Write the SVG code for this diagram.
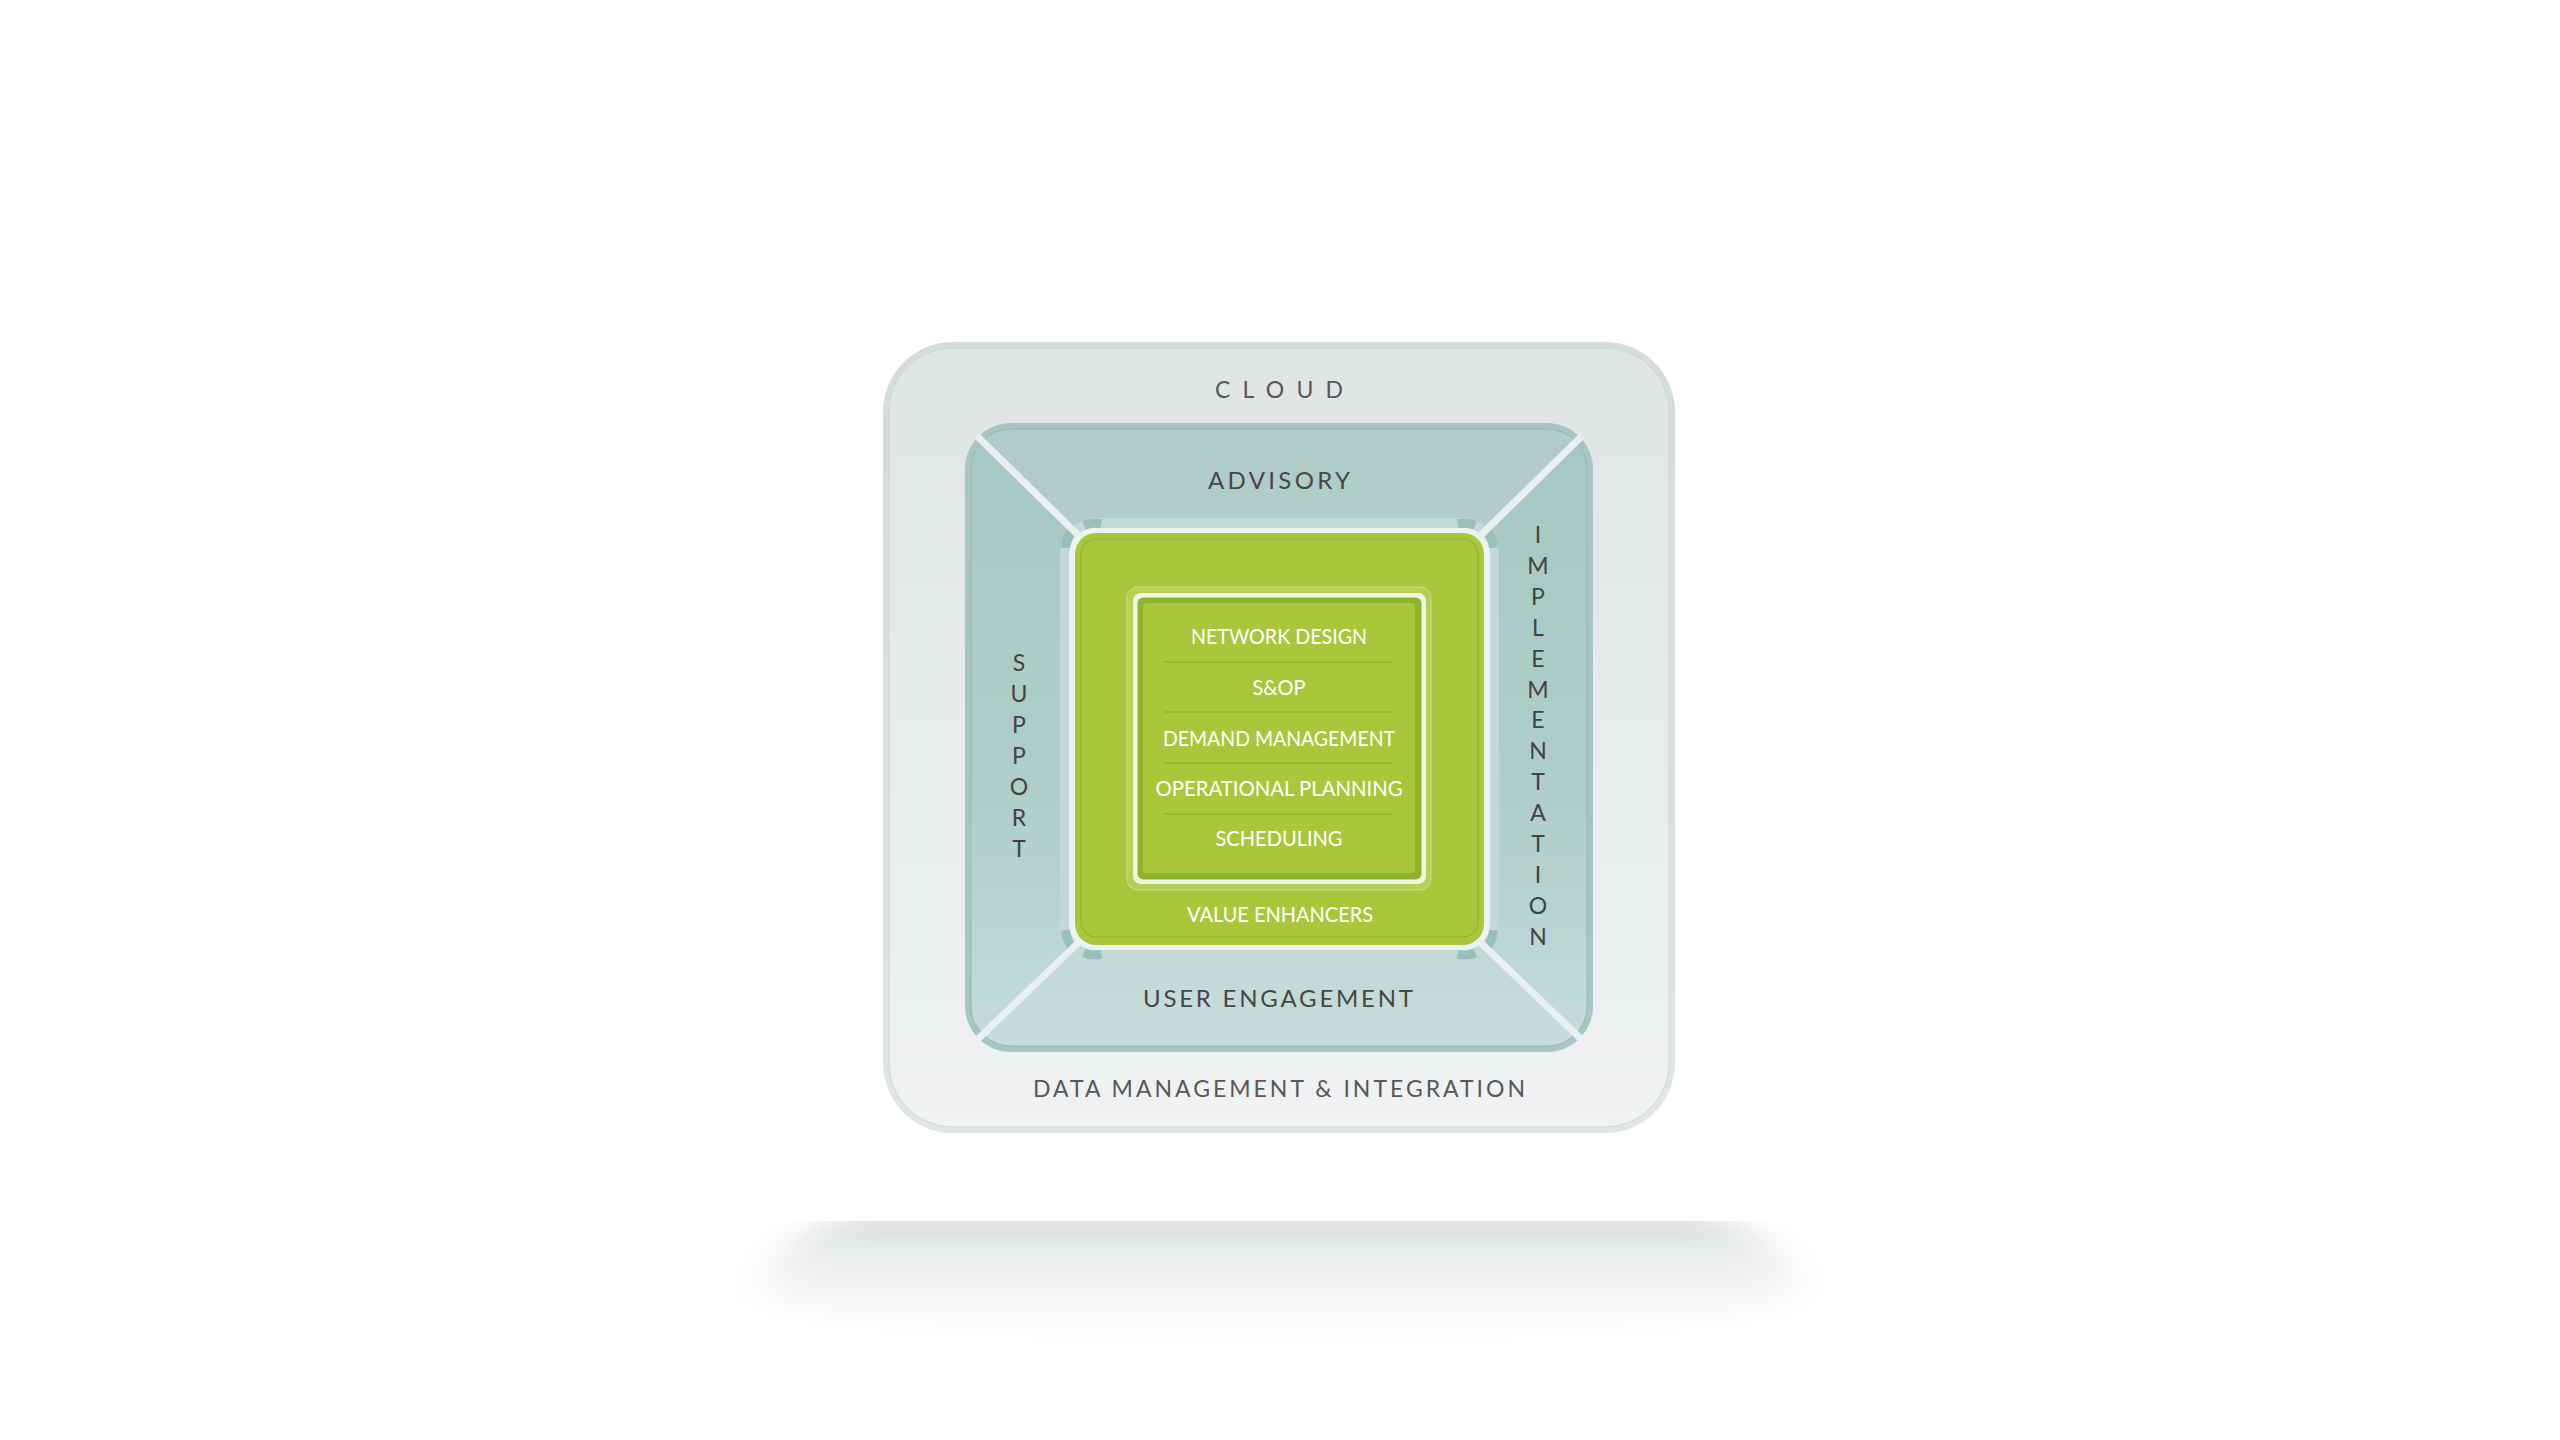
<svg xmlns="http://www.w3.org/2000/svg" width="2560" height="1440" viewBox="0 0 2560 1440">
<defs>
<linearGradient id="outerFill" x1="0" y1="0" x2="0" y2="1">
<stop offset="0" stop-color="#dfe5e4"/>
<stop offset="1" stop-color="#f0f2f3"/>
</linearGradient>
<linearGradient id="outerRim" x1="0" y1="0" x2="0" y2="1">
<stop offset="0" stop-color="#d4dddc"/>
<stop offset="1" stop-color="#dfe6e4"/>
</linearGradient>
<linearGradient id="tealFill" x1="0" y1="0" x2="0" y2="1">
<stop offset="0" stop-color="#b0ccc7"/>
<stop offset="0.55" stop-color="#b4d0cb"/>
<stop offset="1" stop-color="#c8ddda"/>
</linearGradient>
<linearGradient id="sideTint" x1="0" y1="0" x2="0" y2="1">
<stop offset="0" stop-color="#9bc4bb" stop-opacity="0.45"/>
<stop offset="0.7" stop-color="#a3c9c2" stop-opacity="0.3"/>
<stop offset="1" stop-color="#b6d4cf" stop-opacity="0.1"/>
</linearGradient>
<linearGradient id="shadowGrad" x1="0" y1="1222" x2="0" y2="1350" gradientUnits="userSpaceOnUse">
<stop offset="0" stop-color="#d9dedd"/>
<stop offset="0.15" stop-color="#e4e8e7"/>
<stop offset="0.45" stop-color="#f2f4f4"/>
<stop offset="1" stop-color="#ffffff"/>
</linearGradient>
<filter id="blur" x="-15%" y="-80%" width="130%" height="260%">
<feGaussianBlur stdDeviation="24 10"/>
</filter>
<clipPath id="shadowClip"><rect x="600" y="1221" width="1400" height="200"/></clipPath>
<clipPath id="tealClip"><rect x="971" y="429" width="616" height="617" rx="40"/></clipPath>
<style>
.lbl{font-family:Lato,"Open Sans","Liberation Sans",sans-serif;fill:#4d4d4d;text-anchor:middle}
.outer{font-size:23px;fill:#585858}
.mid{font-size:24px;fill:#474747}
.vert{font-size:23px;fill:#424242}
.wt{font-family:Lato,"Open Sans","Liberation Sans",sans-serif;font-size:21px;fill:#ffffff;text-anchor:middle}
.diag{stroke:#eaf0ef;stroke-width:7;stroke-linecap:butt}
.arc{fill:none;stroke:#96c0b9;stroke-width:9}
.sep{stroke:#8fb531;stroke-width:1.5}
</style>
</defs>

<rect width="2560" height="1440" fill="#ffffff"/>

<g id="shadow" clip-path="url(#shadowClip)">
<path d="M 850 1214 L 1710 1214 C 1770 1234 1800 1275 1795 1298 C 1785 1325 1500 1340 1279 1340 C 1060 1340 775 1325 763 1298 C 758 1275 790 1234 850 1214 Z" fill="url(#shadowGrad)" filter="url(#blur)"/>
</g>

<g id="cloud">
<rect x="883" y="342" width="792" height="791" rx="70" fill="url(#outerRim)"/>
<rect x="889" y="348" width="780" height="779" rx="64" fill="url(#outerFill)" stroke="#c9d3d1" stroke-width="0.8"/>
<text class="lbl outer" x="1279" y="398" textLength="128" font-size="22">CLOUD</text>
<text class="lbl outer" x="1279" y="1097" textLength="492">DATA MANAGEMENT &amp; INTEGRATION</text>
</g>

<g id="service-ring">
<rect x="965" y="423" width="628" height="629" rx="46" fill="#a7c6c1"/>
<rect x="971" y="429" width="616" height="617" rx="40" fill="url(#tealFill)" stroke="#8fb1ab" stroke-width="0.8"/>
<g clip-path="url(#tealClip)">
<polygon points="960,418 1078,535 1078,942 960,1058" fill="url(#sideTint)"/>
<polygon points="1598,418 1480,535 1480,942 1598,1058" fill="url(#sideTint)"/>
</g>
</g>

<g id="advisory">
<text class="lbl mid" x="1279" y="489" textLength="142">ADVISORY</text>
</g>

<g id="user-engagement">
<text class="lbl mid" x="1278" y="1007" textLength="270" font-size="25">USER ENGAGEMENT</text>
</g>

<g id="support">
<text class="lbl vert"><tspan x="1019" y="671">S</tspan><tspan x="1019" y="702">U</tspan><tspan x="1019" y="733">P</tspan><tspan x="1019" y="764">P</tspan><tspan x="1019" y="795">O</tspan><tspan x="1019" y="826">R</tspan><tspan x="1019" y="857">T</tspan></text>
</g>

<g id="implementation">
<text class="lbl vert"><tspan x="1538" y="543">I</tspan><tspan x="1538" y="574">M</tspan><tspan x="1538" y="605">P</tspan><tspan x="1538" y="636">L</tspan><tspan x="1538" y="667">E</tspan><tspan x="1538" y="698">M</tspan><tspan x="1538" y="728">E</tspan><tspan x="1538" y="759">N</tspan><tspan x="1538" y="790">T</tspan><tspan x="1538" y="821">A</tspan><tspan x="1538" y="852">T</tspan><tspan x="1538" y="883">I</tspan><tspan x="1538" y="914">O</tspan><tspan x="1538" y="945">N</tspan></text>
</g>

<g id="value-enhancers">
<rect x="1060" y="518" width="439" height="442" rx="36" fill="#c3d9d5"/>
<g id="corner-accents">
<path class="arc" d="M 1065.6 547.8 A 30 30 0 0 1 1072.4 530.6"/>
<path class="arc" d="M 1083.8 525.2 A 30 30 0 0 1 1101.3 523.7"/>
<path class="arc" d="M 1493.4 547.8 A 30 30 0 0 0 1486.6 530.6"/>
<path class="arc" d="M 1475.2 525.2 A 30 30 0 0 0 1457.7 523.7"/>
<path class="arc" d="M 1065.6 930.2 A 30 30 0 0 0 1072.4 947.4"/>
<path class="arc" d="M 1083.8 952.8 A 30 30 0 0 0 1101.3 954.3"/>
<path class="arc" d="M 1493.4 930.2 A 30 30 0 0 1 1486.6 947.4"/>
<path class="arc" d="M 1475.2 952.8 A 30 30 0 0 1 1457.7 954.3"/>
</g>
<rect x="1069" y="528" width="421" height="422" rx="26" fill="#eef3f2"/>
<rect x="1075" y="533" width="409" height="412" rx="21" fill="#aac73c"/>
<rect x="1081" y="539" width="397" height="398" rx="15" fill="none" stroke="#8aaa2c" stroke-width="1.2" opacity="0.7"/>
<text class="wt" x="1280" y="922" textLength="186" lengthAdjust="spacingAndGlyphs">VALUE ENHANCERS</text>
</g>

<g id="separators">
<line class="diag" x1="977" y1="436" x2="1079" y2="536"/>
<line class="diag" x1="1582" y1="436" x2="1480" y2="536"/>
<line class="diag" x1="977" y1="1040" x2="1079" y2="942"/>
<line class="diag" x1="1582" y1="1040" x2="1480" y2="942"/>
</g>

<g id="solutions">
<rect x="1127" y="587" width="304" height="303" rx="11" fill="#b5d057" stroke="#c9df84" stroke-width="1"/>
<rect x="1133" y="593" width="293" height="291" rx="8" fill="#f1f6e4"/>
<rect x="1137.5" y="597.5" width="284" height="282" rx="6" fill="#8db52b"/>
<rect x="1143" y="603" width="272" height="270" rx="4" fill="#aac73c"/>
<line class="sep" x1="1164" y1="662" x2="1393" y2="662"/>
<line class="sep" x1="1164" y1="712" x2="1393" y2="712"/>
<line class="sep" x1="1164" y1="763" x2="1393" y2="763"/>
<line class="sep" x1="1164" y1="814" x2="1393" y2="814"/>
<text class="wt" x="1279" y="644" textLength="176" lengthAdjust="spacingAndGlyphs">NETWORK DESIGN</text>
<text class="wt" x="1279" y="695" textLength="53" lengthAdjust="spacingAndGlyphs">S&amp;OP</text>
<text class="wt" x="1279" y="746" textLength="232" lengthAdjust="spacingAndGlyphs">DEMAND MANAGEMENT</text>
<text class="wt" x="1279" y="796" textLength="247" lengthAdjust="spacingAndGlyphs">OPERATIONAL PLANNING</text>
<text class="wt" x="1279" y="846" textLength="127" lengthAdjust="spacingAndGlyphs">SCHEDULING</text>
</g>
</svg>
